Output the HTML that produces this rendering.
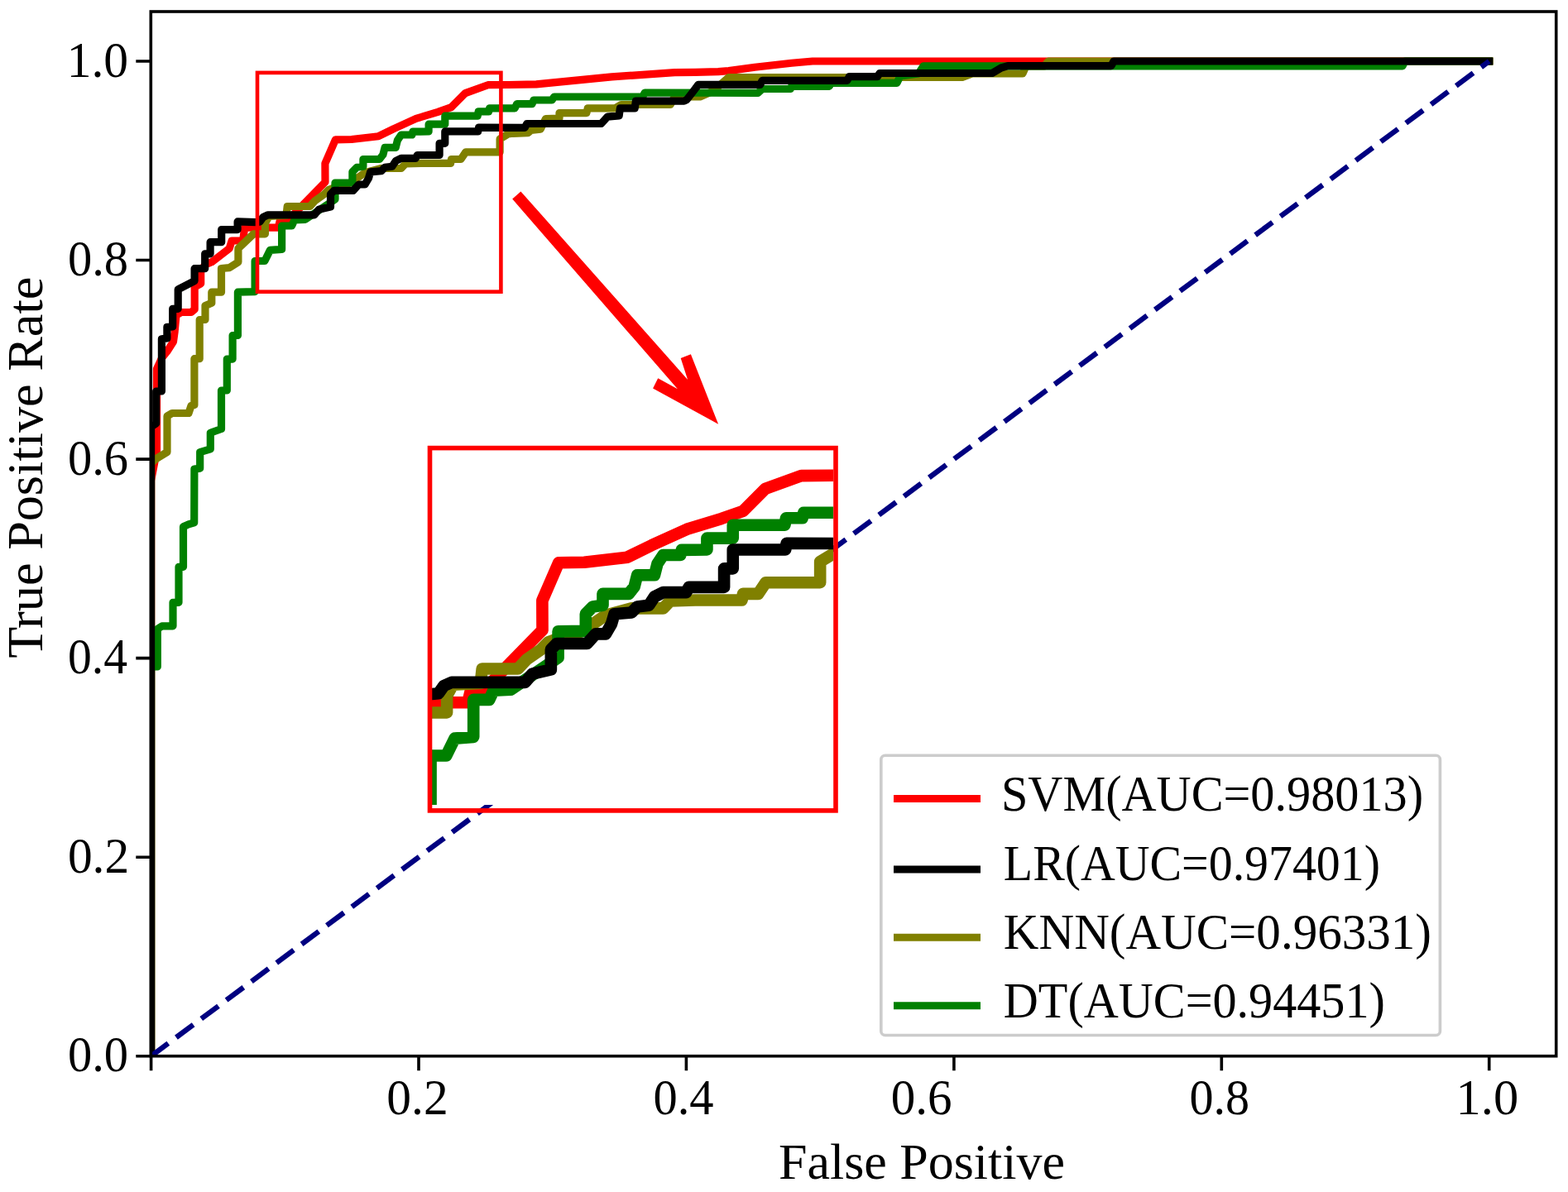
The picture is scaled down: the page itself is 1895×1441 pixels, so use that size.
<!DOCTYPE html><html><head><meta charset="utf-8"><title>ROC</title><style>html,body{margin:0;padding:0;background:#fff;overflow:hidden}svg{display:block}text{font-family:"Liberation Serif",serif;fill:#000}</style></head><body>
<svg width="1895" height="1441" viewBox="0 0 1895 1441">
<rect x="0" y="0" width="1895" height="1441" fill="#fff"/>
<defs>
<clipPath id="ax"><rect x="182.6" y="14.0" width="1698.1000000000001" height="1262.7"/></clipPath>
<clipPath id="ins"><rect x="522" y="544" width="485" height="429"/></clipPath>
</defs>
<g clip-path="url(#ax)">
<g fill="none" stroke-width="9.2" stroke-linejoin="round" stroke-linecap="square"><polyline stroke="#ff0000" points="182.6,1276.7 182.6,581.0 189.5,545.0 189.5,446.0 196.0,432.0 202.5,424.0 209.5,413.0 211.0,402.0 213.0,381.0 219.0,377.5 231.0,377.5 235.2,374.0 235.2,346.9 242.7,343.0 242.7,327.5 248.0,319.7 255.8,316.8 277.2,300.3 280.1,291.0 293.7,291.0 295.6,275.0 309.0,275.1 336.3,275.1 338.4,266.4 348.3,265.9 393.0,220.1 392.9,197.6 405.4,168.8 424.8,168.5 457.5,164.7 476.0,155.6 502.8,143.4 529.2,135.3 545.5,129.6 562.4,112.6 589.7,102.7 614.6,102.5 648.1,101.8 739.3,92.9 815.3,87.6 840.0,87.4 868.0,86.6 880.7,85.6 912.3,81.3 956.6,76.3 982.0,74.0 1799.7,74.0"/><polyline stroke="#808000" points="182.6,1276.7 182.6,560.0 188.0,555.0 202.0,546.5 202.0,503.0 208.0,499.5 228.0,499.5 231.0,490.5 234.9,489.5 234.9,433.7 241.2,433.7 241.2,386.5 248.0,386.5 248.0,369.5 255.8,366.3 255.8,353.2 267.5,353.2 267.5,324.5 277.2,323.6 287.9,316.8 287.9,300.3 306.3,282.8 309.0,282.8 320.4,282.8 320.4,270.0 325.0,261.5 346.0,260.5 347.2,249.5 374.4,249.5 381.0,242.4 391.9,234.8 397.4,229.3 401.7,227.7 423.7,220.8 441.1,208.8 460.8,203.5 484.8,203.5 490.2,197.9 509.0,197.3 544.6,197.3 545.5,192.5 557.0,192.5 562.8,183.9 604.1,183.9 604.1,168.0 614.0,162.0 620.3,161.3 638.0,160.7 641.8,157.5 653.2,156.3 659.5,143.6 676.0,143.0 676.0,136.6 708.9,136.6 710.2,130.9 743.1,130.9 750.7,126.5 810.2,126.5 815.3,117.0 846.0,117.0 862.0,110.0 880.7,93.5 1163.0,93.5 1175.0,89.0 1236.0,89.0 1240.0,80.0 1262.0,80.0 1267.0,74.0 1799.7,74.0"/><polyline stroke="#008000" points="182.6,1276.7 182.6,806.0 190.3,806.0 190.3,760.3 195.8,756.8 209.0,756.8 209.0,728.3 216.0,728.3 216.0,685.3 221.5,685.3 221.5,636.7 227.8,633.9 234.7,631.8 234.9,567.1 241.7,566.1 241.7,546.6 254.3,542.8 254.3,523.3 267.5,518.5 267.5,472.0 274.3,472.0 274.3,434.1 281.1,434.1 281.1,405.5 287.4,405.5 287.4,353.2 308.1,352.6 308.1,315.5 319.9,315.5 326.4,302.4 340.6,301.3 340.6,273.0 352.6,273.0 355.9,265.9 369.0,265.3 405.0,241.0 405.0,221.0 425.9,220.8 425.9,207.8 431.3,202.3 438.9,201.2 438.9,192.5 458.6,192.5 462.9,187.0 465.1,178.3 478.2,178.3 480.4,169.6 484.8,163.0 497.9,163.0 498.9,159.2 518.1,158.9 518.1,150.2 537.8,150.2 537.8,140.2 577.2,140.2 578.2,134.9 590.6,134.9 591.6,130.8 622.2,130.8 624.7,125.6 643.1,125.6 645.0,121.0 667.1,121.0 669.7,117.0 776.7,117.0 779.2,112.0 916.0,112.3 921.2,107.5 955.4,107.5 956.6,104.3 1002.2,104.3 1004.8,100.3 1084.0,100.3 1088.0,92.0 1110.0,89.0 1116.0,79.8 1695.0,79.8 1698.0,74.0 1799.7,74.0"/><polyline stroke="#000000" points="182.6,1276.7 182.6,516.0 188.7,512.0 188.7,473.0 195.4,473.0 195.4,409.8 201.9,408.9 201.9,395.3 208.7,394.8 208.7,373.3 215.2,373.3 215.2,349.8 235.1,339.6 235.1,324.7 247.7,324.7 247.7,306.8 254.1,306.8 254.1,292.7 267.7,292.7 267.7,277.6 287.1,277.6 287.1,267.9 309.0,268.7 314.0,268.2 318.0,262.5 324.0,259.8 379.9,259.8 385.4,253.3 399.5,250.1 399.5,234.8 403.9,230.3 426.9,230.3 433.5,223.0 441.1,223.0 445.5,215.4 447.7,207.8 460.8,206.7 465.1,202.3 473.9,201.2 478.2,194.7 484.8,191.4 502.2,191.4 504.4,187.5 531.1,187.5 531.1,173.3 537.8,173.3 537.8,158.9 577.7,158.9 578.6,154.1 634.2,154.3 636.7,149.5 726.6,149.5 734.2,141.1 748.2,139.8 749.4,130.9 767.2,130.9 768.4,122.1 826.7,122.1 830.0,120.5 837.6,110.7 843.9,102.4 918.7,102.4 921.2,97.4 1023.8,97.4 1026.3,92.7 1060.5,92.7 1063.0,88.5 1199.0,88.5 1210.0,82.0 1218.0,79.6 1343.0,79.6 1346.0,74.0 1799.7,74.0"/></g>
<line x1="182.6" y1="1276.7" x2="1799.7" y2="74.0" stroke="#000080" stroke-width="6.3" stroke-dasharray="25.8 12.0"/>
</g>
<rect x="182.3" y="14.0" width="1698.4" height="1262.7" fill="none" stroke="#000" stroke-width="3.6"/>
<path d="M164.3,1276.7H182.3M164.3,1036.2H182.3M164.3,795.6H182.3M164.3,555.1H182.3M164.3,314.5H182.3M164.3,74.0H182.3M182.6,1276.7V1294.2M506.0,1276.7V1294.2M829.4,1276.7V1294.2M1152.9,1276.7V1294.2M1476.3,1276.7V1294.2M1799.7,1276.7V1294.2" stroke="#000" stroke-width="3.6" fill="none"/>
<text x="81.91" y="1295.00" font-size="61" textLength="73.22" lengthAdjust="spacingAndGlyphs">0.0</text>
<text x="81.88" y="1055.00" font-size="61" textLength="74.33" lengthAdjust="spacingAndGlyphs">0.2</text>
<text x="81.94" y="814.00" font-size="61" textLength="72.11" lengthAdjust="spacingAndGlyphs">0.4</text>
<text x="81.89" y="574.00" font-size="61" textLength="73.23" lengthAdjust="spacingAndGlyphs">0.6</text>
<text x="81.90" y="333.00" font-size="61" textLength="73.22" lengthAdjust="spacingAndGlyphs">0.8</text>
<text x="80.66" y="92.50" font-size="61" textLength="74.48" lengthAdjust="spacingAndGlyphs">1.0</text>
<text x="467.36" y="1347.20" font-size="61" textLength="74.34" lengthAdjust="spacingAndGlyphs">0.2</text>
<text x="789.40" y="1347.20" font-size="61" textLength="73.15" lengthAdjust="spacingAndGlyphs">0.4</text>
<text x="1076.87" y="1347.20" font-size="61" textLength="73.76" lengthAdjust="spacingAndGlyphs">0.6</text>
<text x="1437.43" y="1347.20" font-size="61" textLength="72.65" lengthAdjust="spacingAndGlyphs">0.8</text>
<text x="1759.57" y="1347.20" font-size="61" textLength="75.61" lengthAdjust="spacingAndGlyphs">1.0</text>
<text x="940.93" y="1424.80" font-size="61" textLength="346.11" lengthAdjust="spacingAndGlyphs">False Positive</text>
<text transform="translate(51.40,795.71) rotate(-90)" font-size="61" textLength="461.02" lengthAdjust="spacingAndGlyphs">True Positive Rate</text>
<rect x="1064.8" y="913.3" width="675.6000000000001" height="338.20000000000005" rx="5" ry="5" fill="#fff" stroke="#cccccc" stroke-width="3.6"/>
<line x1="1080" y1="965.5" x2="1185" y2="965.5" stroke="#ff0000" stroke-width="9"/>
<text x="1209.94" y="979.80" font-size="61" textLength="510.10" lengthAdjust="spacingAndGlyphs">SVM(AUC=0.98013)</text>
<line x1="1080" y1="1051" x2="1185" y2="1051" stroke="#000000" stroke-width="9"/>
<text x="1212.86" y="1063.60" font-size="61" textLength="455.07" lengthAdjust="spacingAndGlyphs">LR(AUC=0.97401)</text>
<line x1="1080" y1="1133.3" x2="1185" y2="1133.3" stroke="#808000" stroke-width="9"/>
<text x="1212.86" y="1147.00" font-size="61" textLength="517.06" lengthAdjust="spacingAndGlyphs">KNN(AUC=0.96331)</text>
<line x1="1080" y1="1215.8" x2="1185" y2="1215.8" stroke="#008000" stroke-width="9"/>
<text x="1212.85" y="1230.40" font-size="61" textLength="461.08" lengthAdjust="spacingAndGlyphs">DT(AUC=0.94451)</text>
<rect x="311.0" y="87.9" width="294.4" height="264.8" fill="none" stroke="#ff0000" stroke-width="4.6"/>
<polygon fill="#ff0000" points="629.4,231.4 831.1,458.9 822.7,432.9 834.9,428.3 868.1,512.7 789.1,469.5 795.2,457.3 818.9,470.3 619.2,240.6"/>
<rect x="522" y="544" width="485" height="429" fill="#fff"/>
<g clip-path="url(#ins)">
<g transform="matrix(1.59,0,0,1.59,30.65,411.8)">
<g fill="none" stroke-width="9.2" stroke-linejoin="round" stroke-linecap="square"><polyline stroke="#ff0000" points="182.6,1276.7 182.6,581.0 189.5,545.0 189.5,446.0 196.0,432.0 202.5,424.0 209.5,413.0 211.0,402.0 213.0,381.0 219.0,377.5 231.0,377.5 235.2,374.0 235.2,346.9 242.7,343.0 242.7,327.5 248.0,319.7 255.8,316.8 277.2,300.3 280.1,291.0 293.7,291.0 295.6,275.0 309.0,275.1 336.3,275.1 338.4,266.4 348.3,265.9 393.0,220.1 392.9,197.6 405.4,168.8 424.8,168.5 457.5,164.7 476.0,155.6 502.8,143.4 529.2,135.3 545.5,129.6 562.4,112.6 589.7,102.7 614.6,102.5 648.1,101.8 739.3,92.9 815.3,87.6 840.0,87.4 868.0,86.6 880.7,85.6 912.3,81.3 956.6,76.3 982.0,74.0 1799.7,74.0"/><polyline stroke="#808000" points="182.6,1276.7 182.6,560.0 188.0,555.0 202.0,546.5 202.0,503.0 208.0,499.5 228.0,499.5 231.0,490.5 234.9,489.5 234.9,433.7 241.2,433.7 241.2,386.5 248.0,386.5 248.0,369.5 255.8,366.3 255.8,353.2 267.5,353.2 267.5,324.5 277.2,323.6 287.9,316.8 287.9,300.3 306.3,282.8 309.0,282.8 320.4,282.8 320.4,270.0 325.0,261.5 346.0,260.5 347.2,249.5 374.4,249.5 381.0,242.4 391.9,234.8 397.4,229.3 401.7,227.7 423.7,220.8 441.1,208.8 460.8,203.5 484.8,203.5 490.2,197.9 509.0,197.3 544.6,197.3 545.5,192.5 557.0,192.5 562.8,183.9 604.1,183.9 604.1,168.0 614.0,162.0 620.3,161.3 638.0,160.7 641.8,157.5 653.2,156.3 659.5,143.6 676.0,143.0 676.0,136.6 708.9,136.6 710.2,130.9 743.1,130.9 750.7,126.5 810.2,126.5 815.3,117.0 846.0,117.0 862.0,110.0 880.7,93.5 1163.0,93.5 1175.0,89.0 1236.0,89.0 1240.0,80.0 1262.0,80.0 1267.0,74.0 1799.7,74.0"/><polyline stroke="#008000" points="182.6,1276.7 182.6,806.0 190.3,806.0 190.3,760.3 195.8,756.8 209.0,756.8 209.0,728.3 216.0,728.3 216.0,685.3 221.5,685.3 221.5,636.7 227.8,633.9 234.7,631.8 234.9,567.1 241.7,566.1 241.7,546.6 254.3,542.8 254.3,523.3 267.5,518.5 267.5,472.0 274.3,472.0 274.3,434.1 281.1,434.1 281.1,405.5 287.4,405.5 287.4,353.2 308.1,352.6 308.1,315.5 319.9,315.5 326.4,302.4 340.6,301.3 340.6,273.0 352.6,273.0 355.9,265.9 369.0,265.3 405.0,241.0 405.0,221.0 425.9,220.8 425.9,207.8 431.3,202.3 438.9,201.2 438.9,192.5 458.6,192.5 462.9,187.0 465.1,178.3 478.2,178.3 480.4,169.6 484.8,163.0 497.9,163.0 498.9,159.2 518.1,158.9 518.1,150.2 537.8,150.2 537.8,140.2 577.2,140.2 578.2,134.9 590.6,134.9 591.6,130.8 622.2,130.8 624.7,125.6 643.1,125.6 645.0,121.0 667.1,121.0 669.7,117.0 776.7,117.0 779.2,112.0 916.0,112.3 921.2,107.5 955.4,107.5 956.6,104.3 1002.2,104.3 1004.8,100.3 1084.0,100.3 1088.0,92.0 1110.0,89.0 1116.0,79.8 1695.0,79.8 1698.0,74.0 1799.7,74.0"/><polyline stroke="#000000" points="182.6,1276.7 182.6,516.0 188.7,512.0 188.7,473.0 195.4,473.0 195.4,409.8 201.9,408.9 201.9,395.3 208.7,394.8 208.7,373.3 215.2,373.3 215.2,349.8 235.1,339.6 235.1,324.7 247.7,324.7 247.7,306.8 254.1,306.8 254.1,292.7 267.7,292.7 267.7,277.6 287.1,277.6 287.1,267.9 309.0,268.7 314.0,268.2 318.0,262.5 324.0,259.8 379.9,259.8 385.4,253.3 399.5,250.1 399.5,234.8 403.9,230.3 426.9,230.3 433.5,223.0 441.1,223.0 445.5,215.4 447.7,207.8 460.8,206.7 465.1,202.3 473.9,201.2 478.2,194.7 484.8,191.4 502.2,191.4 504.4,187.5 531.1,187.5 531.1,173.3 537.8,173.3 537.8,158.9 577.7,158.9 578.6,154.1 634.2,154.3 636.7,149.5 726.6,149.5 734.2,141.1 748.2,139.8 749.4,130.9 767.2,130.9 768.4,122.1 826.7,122.1 830.0,120.5 837.6,110.7 843.9,102.4 918.7,102.4 921.2,97.4 1023.8,97.4 1026.3,92.7 1060.5,92.7 1063.0,88.5 1199.0,88.5 1210.0,82.0 1218.0,79.6 1343.0,79.6 1346.0,74.0 1799.7,74.0"/></g>
</g></g>
<rect x="519.5" y="541.6" width="490.5" height="438.3" fill="none" stroke="#ff0000" stroke-width="5.6"/>
</svg></body></html>
